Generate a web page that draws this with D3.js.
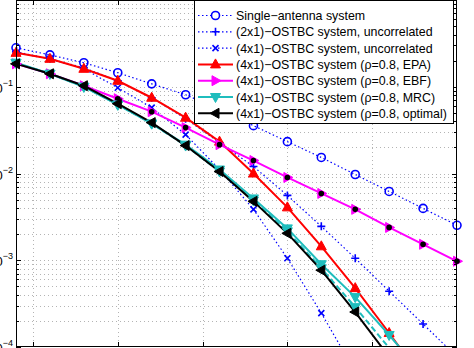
<!DOCTYPE html>
<html>
<head>
<meta charset="utf-8">
<script src="https://cdn.jsdelivr.net/npm/d3@7"></script>
<style>
  body { margin: 0; background: #fff; }
  text { font-family: "Liberation Sans", Arial, sans-serif; }
</style>
</head>
<body>
<script>
const width = 474, height = 348;

// SNR points (dB)
const snr = [4, 6, 8, 10, 12, 14, 16, 18, 20, 22, 24, 26, 28, 30];
const xGrid = [5, 10, 15, 20, 25];

// BER values
const single  = [0.281, 0.233, 0.189, 0.145, 0.108, 0.0809, 0.0544, 0.0356, 0.0233, 0.0153, 0.00974, 0.00621, 0.00396, 0.00253];
const ostbc2  = [0.2525, 0.2099, 0.1654, 0.1172, 0.0747, 0.0429, 0.0227, 0.01204, 0.00559, 0.00246, 0.001054, 0.00044, 0.000184, 0.0000768];
const ostbc4  = [0.2459, 0.2099, 0.161, 0.0974, 0.0574, 0.0281, 0.01112, 0.00386, 0.001054, 0.000246, 0.0000516];
const epa     = [0.2459, 0.2099, 0.161, 0.1172, 0.0747, 0.044, 0.0233, 0.01, 0.00407, 0.001448, 0.000477, 0.000145, 0.0000418];
const ebf     = [0.1838, 0.1411, 0.1027, 0.0728, 0.0516, 0.0338, 0.0215, 0.01411, 0.009, 0.00589, 0.00386, 0.00239, 0.001527, 0.000974];
const mrc     = [0.1888, 0.1411, 0.1, 0.0621, 0.0376, 0.0215, 0.01112, 0.00516, 0.00233, 0.0009, 0.000376, 0.0001374, 0.0000477];
const mrcAlt  = [0.1888, 0.1411, 0.1, 0.0621, 0.0376, 0.021, 0.01054, 0.00489, 0.002154, 0.000809, 0.000288, 0.0000974];
const optimal = [0.1838, 0.1411, 0.1027, 0.0638, 0.0386, 0.021, 0.01054, 0.00477, 0.002043, 0.000768, 0.000253, 0.0000768];

const yTickExp = [-1, -2, -3, -4];

const margin = { left: 16, right: 17, top: 0, bottom: 1 };

const x = d3.scaleLinear().domain([4, 30]).range([margin.left, width - margin.right]);
const y = d3.scaleLog().domain([1e-4, 1]).range([height - margin.bottom, margin.top]);

const svg = d3.select("body").append("svg")
    .attr("width", width)
    .attr("height", height);

svg.append("defs").append("clipPath").attr("id", "plot")
    .append("rect")
    .attr("x", x(4)).attr("y", y(1))
    .attr("width", x(30) - x(4)).attr("height", y(1e-4) - y(1));

// grid (dotted, like matlab ':')
const grid = svg.append("g").attr("stroke", "#b4b4b4").attr("stroke-width", 1).attr("stroke-dasharray", "1,3");
const minor = [];
for (let e = -4; e < 0; e++) for (let m = 1; m <= 9; m++) minor.push(m * Math.pow(10, e));
grid.selectAll(".hg").data(minor.slice(1)).enter().append("line")
    .attr("x1", x(4)).attr("x2", x(30))
    .attr("y1", d => Math.round(y(d)) + 0.5).attr("y2", d => Math.round(y(d)) + 0.5);
grid.selectAll(".vg").data(xGrid).enter().append("line")
    .attr("x1", d => Math.round(x(d)) + 0.5).attr("x2", d => Math.round(x(d)) + 0.5)
    .attr("y1", y(1)).attr("y2", y(1e-4));

// series
const series = [
    { v: single,  color: "#0000ff", dash: "1.5,2.5", w: 1.2, marker: "circle", label: "Single\u2212antenna system" },
    { v: ostbc2,  color: "#0000ff", dash: "1.5,2.5", w: 1.2, marker: "plus",   label: "(2x1)\u2212OSTBC system, uncorrelated" },
    { v: ostbc4,  color: "#0000ff", dash: "1.5,2.5", w: 1.2, marker: "times",  label: "(4x1)\u2212OSTBC system, uncorrelated" },
    { v: epa,     color: "#ff0000", dash: null, w: 2, marker: "up",    label: "(4x1)\u2212OSTBC system (\u03c1=0.8, EPA)" },
    { v: ebf,     color: "#ff00ff", dash: null, w: 2, marker: "right", label: "(4x1)\u2212OSTBC system (\u03c1=0.8, EBF)" },
    { v: mrc,     color: "#1fbdbd", dash: null, w: 2, marker: "down",  label: "(4x1)\u2212OSTBC system (\u03c1=0.8, MRC)" },
    { v: mrcAlt,  color: "#1fbdbd", dash: "6,3", w: 2, marker: "down", label: null },
    { v: optimal, color: "#000000", dash: null, w: 2, marker: "left",  label: "(4x1)\u2212OSTBC system (\u03c1=0.8, optimal)" }
];

function markerPath(type) {
    switch (type) {
        case "circle": return "M4,0A4,4 0 1,1 -4,0A4,4 0 1,1 4,0Z";
        case "plus":   return "M-4,0H4M0,-4V4";
        case "times":  return "M-3,-3L3,3M-3,3L3,-3";
        case "up":     return "M0,-5.5L5,3.5L-5,3.5Z";
        case "down":   return "M0,5.5L5,-3.5L-5,-3.5Z";
        case "right":  return "M5.5,0L-3.5,-5L-3.5,5Z";
        case "left":   return "M-5.5,0L3.5,-5L3.5,5Z";
    }
}
const filled = t => ["up", "down", "right", "left"].includes(t);

const line = d3.line().x(d => x(d[0])).y(d => y(d[1]));
const plot = svg.append("g").attr("clip-path", "url(#plot)");

series.forEach(s => {
    const pts = s.v.map((v, i) => [snr[i], v]);
    plot.append("path")
        .attr("d", line(pts))
        .attr("fill", "none")
        .attr("stroke", s.color)
        .attr("stroke-width", s.w)
        .attr("stroke-dasharray", s.dash);
    svg.append("g").selectAll("path").data(pts.filter(p => p[1] >= 1e-4)).enter().append("path")
        .attr("transform", d => `translate(${x(d[0])},${y(d[1])})`)
        .attr("d", markerPath(s.marker))
        .attr("fill", filled(s.marker) ? s.color : "none")
        .attr("stroke", s.color)
        .attr("stroke-width", filled(s.marker) ? 1 : 1.6);
    if (s.marker === "right") {
        // black dots sitting on the EBF curve
        svg.append("g").selectAll("circle").data(pts).enter().append("circle")
            .attr("cx", d => x(d[0])).attr("cy", d => y(d[1]))
            .attr("r", 2.8).attr("fill", "#000");
    }
});

// axes box
const ax = svg.append("g").attr("stroke", "#000").attr("stroke-width", 1).attr("fill", "none");
ax.append("rect")
    .attr("x", x(4) + 0.5).attr("y", y(1) + 0.5)
    .attr("width", x(30) - x(4) - 1).attr("height", y(1e-4) - y(1) - 1);

// ticks (inside, all four sides)
const ticks = svg.append("g").attr("stroke", "#000").attr("stroke-width", 1);
minor.concat([1]).forEach(v => {
    const major = Math.abs(Math.log10(v) - Math.round(Math.log10(v))) < 1e-9;
    const len = major ? 5 : 3;
    const yy = Math.round(y(v)) + 0.5;
    ticks.append("line").attr("x1", x(4)).attr("x2", x(4) + len).attr("y1", yy).attr("y2", yy);
    ticks.append("line").attr("x1", x(30)).attr("x2", x(30) - len).attr("y1", yy).attr("y2", yy);
});
xGrid.forEach(v => {
    const xx = Math.round(x(v)) + 0.5;
    ticks.append("line").attr("x1", xx).attr("x2", xx).attr("y1", y(1e-4)).attr("y2", y(1e-4) - 5);
    ticks.append("line").attr("x1", xx).attr("x2", xx).attr("y1", y(1)).attr("y2", y(1) + 5);
});

// y tick labels (cut off at the left edge, as in the source figure)
const lab = svg.append("g").attr("font-size", 13).attr("fill", "#000");
yTickExp.forEach(e => {
    const t = lab.append("text")
        .attr("x", x(4) - 3)
        .attr("y", y(Math.pow(10, e)) + 6)
        .attr("text-anchor", "end");
    t.append("tspan").text("10");
    t.append("tspan").attr("dy", -7).attr("font-size", 9).text("\u2212" + Math.abs(e));
});

// legend
const lg = svg.append("g");
const legendItems = series.filter(s => s.label);
lg.append("rect")
    .attr("x", 194.5).attr("y", 0.5)
    .attr("width", 259).attr("height", 123)
    .attr("fill", "#fff").attr("stroke", "#000").attr("stroke-width", 1);
legendItems.forEach((s, i) => {
    const ry = 15.5 + i * 16.3;
    lg.append("line")
        .attr("x1", 198).attr("x2", 233).attr("y1", ry).attr("y2", ry)
        .attr("stroke", s.color).attr("stroke-width", s.w).attr("stroke-dasharray", s.dash);
    lg.append("path")
        .attr("transform", `translate(215.5,${ry})`)
        .attr("d", markerPath(s.marker))
        .attr("fill", filled(s.marker) ? s.color : "#fff")
        .attr("stroke", s.color)
        .attr("stroke-width", filled(s.marker) ? 1 : 1.6);
    lg.append("text")
        .attr("x", 236).attr("y", ry + 4.5)
        .attr("font-size", 12.4)
        .text(s.label);
});
</script>
</body>
</html>
